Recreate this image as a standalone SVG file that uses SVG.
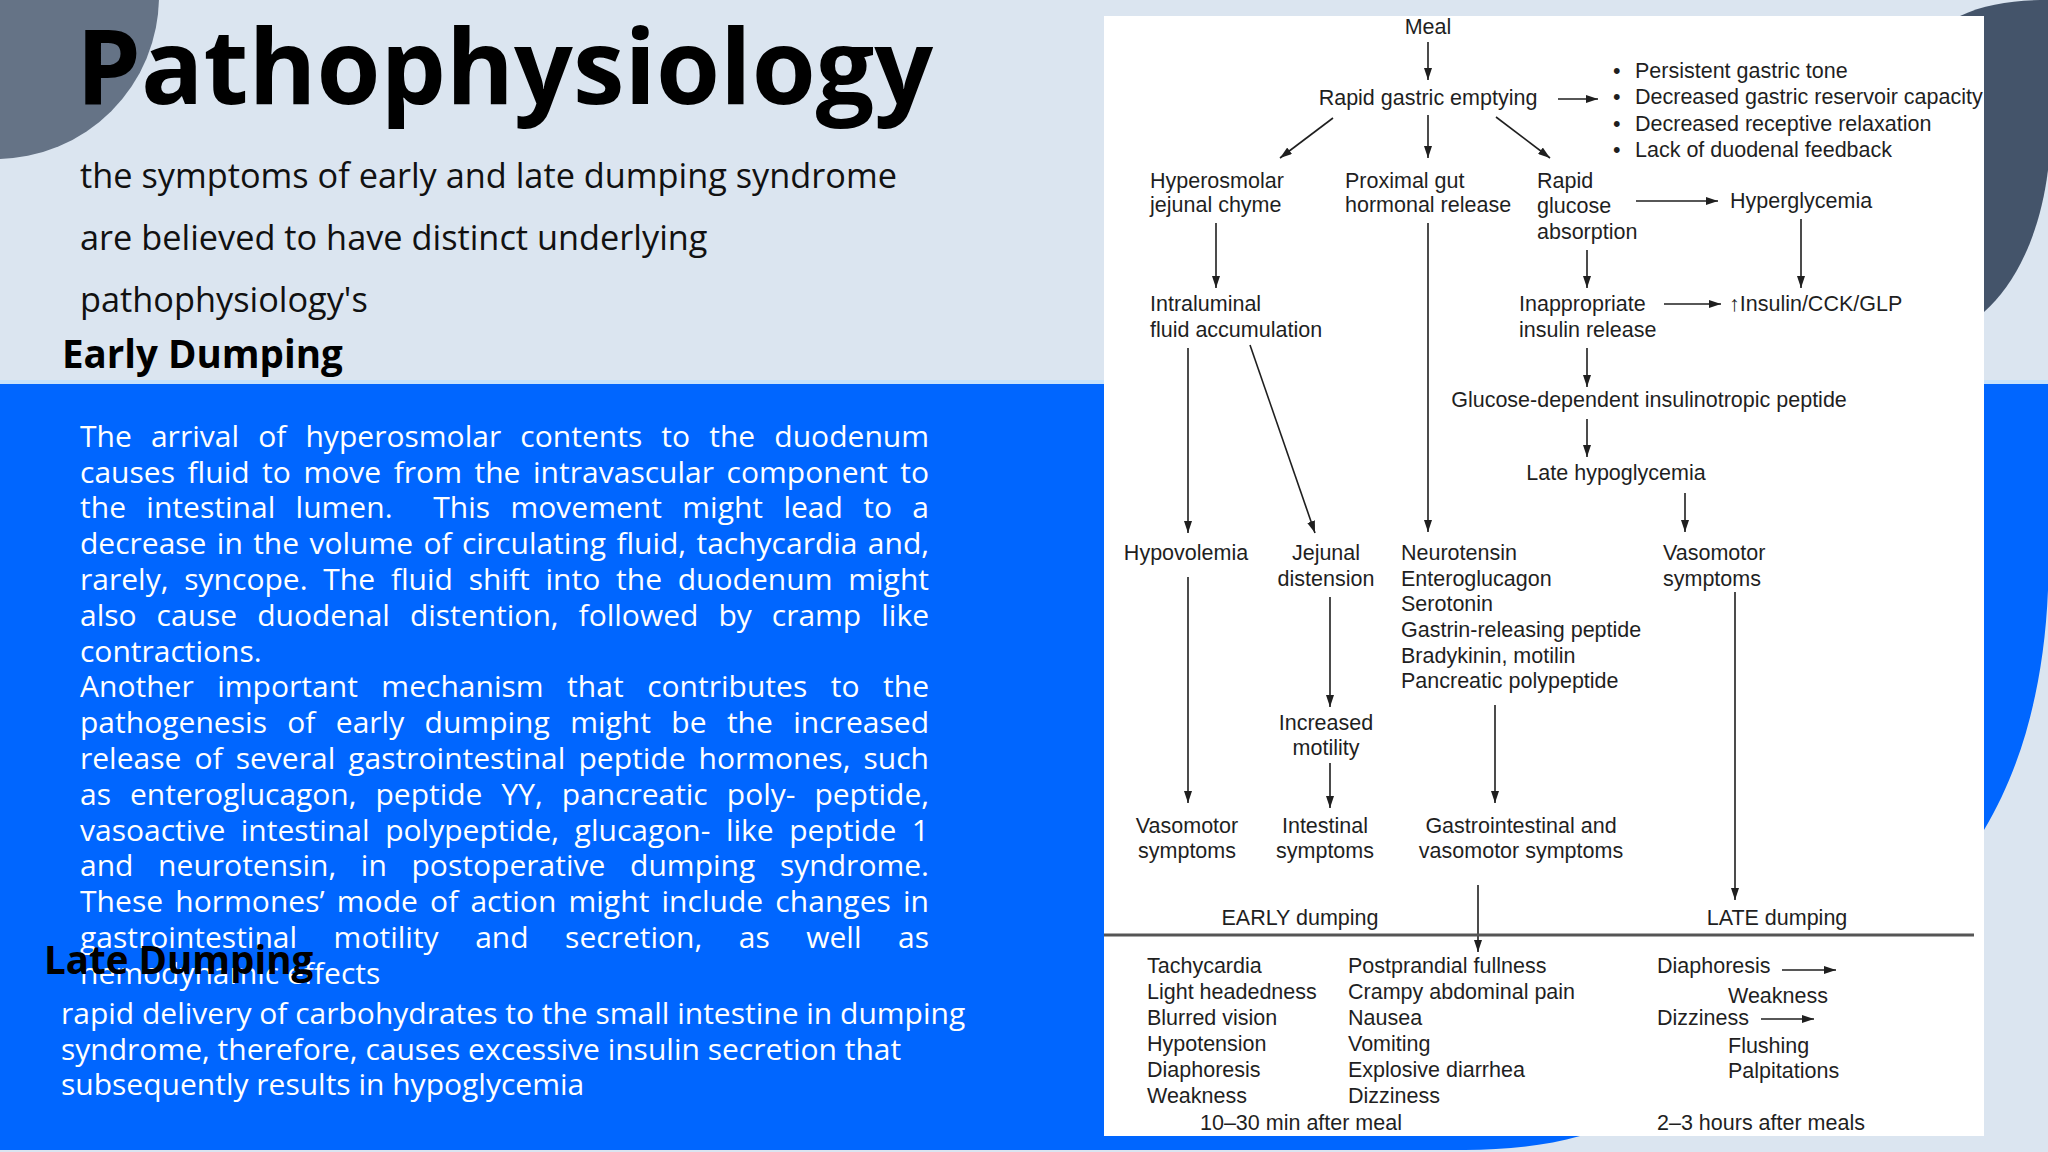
<svg xmlns="http://www.w3.org/2000/svg" width="2048" height="1152" viewBox="0 0 2048 1152">
<defs>
<style>
.t{font-family:"Liberation Sans",Arial,sans-serif;font-size:21.5px;fill:#1f1f1f}
.m{text-anchor:middle}
.body{font-family:"Open Sans","Noto Sans",sans-serif;font-size:30px;fill:#ffffff}
.head{font-family:"Open Sans","Noto Sans",sans-serif;font-weight:bold;fill:#000000}
.sub{font-family:"Open Sans","Noto Sans",sans-serif;font-size:34.3px;fill:#111111}
.c line{stroke:#1f1f1f;stroke-width:1.6;fill:none}
.c line.a{marker-end:url(#ah)}
</style>
<marker id="ah" viewBox="0 0 12 8" refX="12" refY="4" markerWidth="12" markerHeight="8" markerUnits="userSpaceOnUse" orient="auto">
<path d="M0,0 L12,4 L0,8 Z" fill="#1f1f1f"/>
</marker>
</defs>

<!-- background -->
<rect x="0" y="0" width="2048" height="1152" fill="#dbe5f0"/>
<path d="M0,384 H2048 V590 C2044,690 2020,770 1984,830 L1984,1136 L1580,1136 C1545,1146 1505,1150 1465,1150 L0,1150 Z" fill="#0066ff"/>
<rect x="0" y="380" width="2048" height="4" fill="#c6e2fb"/>
<circle cx="-4" cy="-4" r="163" fill="#657386"/>
<path d="M1960,16 C1985,4 2015,0 2048,0 L2048,170 C2040,235 2015,285 1984,312 L1960,312 Z" fill="#44546a"/>

<!-- left text -->
<g id="title">
<text class="head" x="76" y="104" font-size="103.5">Pathophysiology</text>
</g>
<g id="intro">
<text class="sub" x="80" y="188">the symptoms of early and late dumping syndrome</text>
<text class="sub" x="80" y="250">are believed to have distinct underlying</text>
<text class="sub" x="80" y="312">pathophysiology's</text>
</g>
<g id="early-heading">
<text class="head" x="62" y="368" font-size="38.5">Early Dumping</text>
</g>
<g id="early-text">
<text class="body" x="80" y="447" word-spacing="11.3" textLength="849" lengthAdjust="spacing">The arrival of hyperosmolar contents to the duodenum</text>
<text class="body" x="80" y="483" word-spacing="4.7" textLength="849" lengthAdjust="spacing">causes fluid to move from the intravascular component to</text>
<text class="body" x="80" y="518" word-spacing="12.5" textLength="849" lengthAdjust="spacing" xml:space="preserve">the intestinal lumen.  This movement might lead to a</text>
<text class="body" x="80" y="554" word-spacing="2.6" textLength="849" lengthAdjust="spacing">decrease in the volume of circulating fluid, tachycardia and,</text>
<text class="body" x="80" y="590" word-spacing="7.9" textLength="849" lengthAdjust="spacing">rarely, syncope. The fluid shift into the duodenum might</text>
<text class="body" x="80" y="626" word-spacing="12.2" textLength="849" lengthAdjust="spacing">also cause duodenal distention, followed by cramp like</text>
<text class="body" x="80" y="662">contractions.</text>
<text class="body" x="80" y="697" word-spacing="15.7" textLength="849" lengthAdjust="spacing">Another important mechanism that contributes to the</text>
<text class="body" x="80" y="733" word-spacing="12.5" textLength="849" lengthAdjust="spacing">pathogenesis of early dumping might be the increased</text>
<text class="body" x="80" y="769" word-spacing="5.3" textLength="849" lengthAdjust="spacing">release of several gastrointestinal peptide hormones, such</text>
<text class="body" x="80" y="805" word-spacing="11.4" textLength="849" lengthAdjust="spacing">as enteroglucagon, peptide YY, pancreatic poly- peptide,</text>
<text class="body" x="80" y="841" word-spacing="7.7" textLength="849" lengthAdjust="spacing">vasoactive intestinal polypeptide, glucagon- like peptide 1</text>
<text class="body" x="80" y="876" word-spacing="16.8" textLength="849" lengthAdjust="spacing">and neurotensin, in postoperative dumping syndrome.</text>
<text class="body" x="80" y="912" word-spacing="4.3" textLength="849" lengthAdjust="spacing">These hormones’ mode of action might include changes in</text>
<text class="body" x="80" y="948" word-spacing="28.7" textLength="849" lengthAdjust="spacing">gastrointestinal motility and secretion, as well as</text>
<text class="body" x="80" y="984">hemodynamic effects</text>
</g>
<g id="late-heading">
<text class="head" x="44" y="974" font-size="38.5">Late Dumping</text>
</g>
<g id="late-text">
<text class="body" x="61" y="1024">rapid delivery of carbohydrates to the small intestine in dumping</text>
<text class="body" x="61" y="1060">syndrome, therefore, causes excessive insulin secretion that</text>
<text class="body" x="61" y="1095">subsequently results in hypoglycemia</text>
</g>

<!-- diagram card -->
<rect id="card" x="1104" y="16" width="880" height="1120" fill="#ffffff"/>

<g id="connectors" class="c">
<line class="a" x1="1428" y1="42" x2="1428" y2="80"/>
<line class="a" x1="1558" y1="99" x2="1598" y2="99"/>
<line class="a" x1="1333" y1="118" x2="1280" y2="158"/>
<line class="a" x1="1428" y1="115" x2="1428" y2="158"/>
<line class="a" x1="1496" y1="117" x2="1550" y2="158"/>
<line class="a" x1="1636" y1="201" x2="1718" y2="201"/>
<line class="a" x1="1216" y1="223" x2="1216" y2="288"/>
<line class="a" x1="1587" y1="250" x2="1587" y2="288"/>
<line class="a" x1="1801" y1="219" x2="1801" y2="288"/>
<line class="a" x1="1664" y1="304" x2="1721" y2="304"/>
<line class="a" x1="1188" y1="348" x2="1188" y2="533"/>
<line class="a" x1="1250" y1="345" x2="1315" y2="533"/>
<line class="a" x1="1428" y1="223" x2="1428" y2="532"/>
<line class="a" x1="1587" y1="348" x2="1587" y2="387"/>
<line class="a" x1="1587" y1="419" x2="1587" y2="457"/>
<line class="a" x1="1685" y1="493" x2="1685" y2="532"/>
<line class="a" x1="1188" y1="577" x2="1188" y2="803"/>
<line class="a" x1="1330" y1="597" x2="1330" y2="707"/>
<line class="a" x1="1330" y1="763" x2="1330" y2="808"/>
<line class="a" x1="1495" y1="705" x2="1495" y2="803"/>
<line class="a" x1="1735" y1="592" x2="1735" y2="900"/>
<line class="a" x1="1478" y1="885" x2="1478" y2="952"/>
<line class="a" x1="1782" y1="970" x2="1836" y2="970"/>
<line class="a" x1="1761" y1="1019" x2="1814" y2="1019"/>
<line x1="1104" y1="935" x2="1974" y2="935" style="stroke:#555555;stroke-width:3"/>
</g>

<g id="meal"><text class="t m" x="1428" y="34">Meal</text></g>
<g id="rapid-gastric-emptying"><text class="t m" x="1428" y="105">Rapid gastric emptying</text></g>
<g id="gastric-factors">
<text class="t" x="1613" y="78">•</text><text class="t" x="1635" y="78">Persistent gastric tone</text>
<text class="t" x="1613" y="104">•</text><text class="t" x="1635" y="104">Decreased gastric reservoir capacity</text>
<text class="t" x="1613" y="131">•</text><text class="t" x="1635" y="131">Decreased receptive relaxation</text>
<text class="t" x="1613" y="157">•</text><text class="t" x="1635" y="157">Lack of duodenal feedback</text>
</g>
<g id="hyperosmolar"><text class="t" x="1150" y="188">Hyperosmolar</text><text class="t" x="1150" y="212">jejunal chyme</text></g>
<g id="proximal-gut"><text class="t" x="1345" y="188">Proximal gut</text><text class="t" x="1345" y="212">hormonal release</text></g>
<g id="rapid-glucose"><text class="t" x="1537" y="188">Rapid</text><text class="t" x="1537" y="213">glucose</text><text class="t" x="1537" y="239">absorption</text></g>
<g id="hyperglycemia"><text class="t" x="1730" y="208">Hyperglycemia</text></g>
<g id="intraluminal"><text class="t" x="1150" y="311">Intraluminal</text><text class="t" x="1150" y="337">fluid accumulation</text></g>
<g id="inappropriate-insulin"><text class="t" x="1519" y="311">Inappropriate</text><text class="t" x="1519" y="337">insulin release</text></g>
<g id="insulin-cck-glp"><text class="t" x="1729" y="311">↑Insulin/CCK/GLP</text></g>
<g id="gip"><text class="t m" x="1649" y="407">Glucose-dependent insulinotropic peptide</text></g>
<g id="late-hypoglycemia"><text class="t m" x="1616" y="480">Late hypoglycemia</text></g>
<g id="hypovolemia"><text class="t m" x="1186" y="560">Hypovolemia</text></g>
<g id="jejunal-distension"><text class="t m" x="1326" y="560">Jejunal</text><text class="t m" x="1326" y="586">distension</text></g>
<g id="hormones">
<text class="t" x="1401" y="560">Neurotensin</text>
<text class="t" x="1401" y="586">Enteroglucagon</text>
<text class="t" x="1401" y="611">Serotonin</text>
<text class="t" x="1401" y="637">Gastrin-releasing peptide</text>
<text class="t" x="1401" y="663">Bradykinin, motilin</text>
<text class="t" x="1401" y="688">Pancreatic polypeptide</text>
</g>
<g id="vasomotor-late"><text class="t" x="1663" y="560">Vasomotor</text><text class="t" x="1663" y="586">symptoms</text></g>
<g id="increased-motility"><text class="t m" x="1326" y="730">Increased</text><text class="t m" x="1326" y="755">motility</text></g>
<g id="vasomotor-early"><text class="t m" x="1187" y="833">Vasomotor</text><text class="t m" x="1187" y="858">symptoms</text></g>
<g id="intestinal-symptoms"><text class="t m" x="1325" y="833">Intestinal</text><text class="t m" x="1325" y="858">symptoms</text></g>
<g id="gi-vasomotor"><text class="t m" x="1521" y="833">Gastrointestinal and</text><text class="t m" x="1521" y="858">vasomotor symptoms</text></g>
<g id="early-dumping-label"><text class="t m" x="1300" y="925">EARLY dumping</text></g>
<g id="late-dumping-label"><text class="t m" x="1777" y="925">LATE dumping</text></g>
<g id="early-symptoms">
<text class="t" x="1147" y="973">Tachycardia</text>
<text class="t" x="1147" y="999">Light headedness</text>
<text class="t" x="1147" y="1025">Blurred vision</text>
<text class="t" x="1147" y="1051">Hypotension</text>
<text class="t" x="1147" y="1077">Diaphoresis</text>
<text class="t" x="1147" y="1103">Weakness</text>
<text class="t" x="1348" y="973">Postprandial fullness</text>
<text class="t" x="1348" y="999">Crampy abdominal pain</text>
<text class="t" x="1348" y="1025">Nausea</text>
<text class="t" x="1348" y="1051">Vomiting</text>
<text class="t" x="1348" y="1077">Explosive diarrhea</text>
<text class="t" x="1348" y="1103">Dizziness</text>
<text class="t" x="1200" y="1130">10–30 min after meal</text>
</g>
<g id="late-symptoms">
<text class="t" x="1657" y="973">Diaphoresis</text>
<text class="t" x="1728" y="1003">Weakness</text>
<text class="t" x="1657" y="1025">Dizziness</text>
<text class="t" x="1728" y="1053">Flushing</text>
<text class="t" x="1728" y="1078">Palpitations</text>
<text class="t" x="1657" y="1130">2–3 hours after meals</text>
</g>
</svg>
